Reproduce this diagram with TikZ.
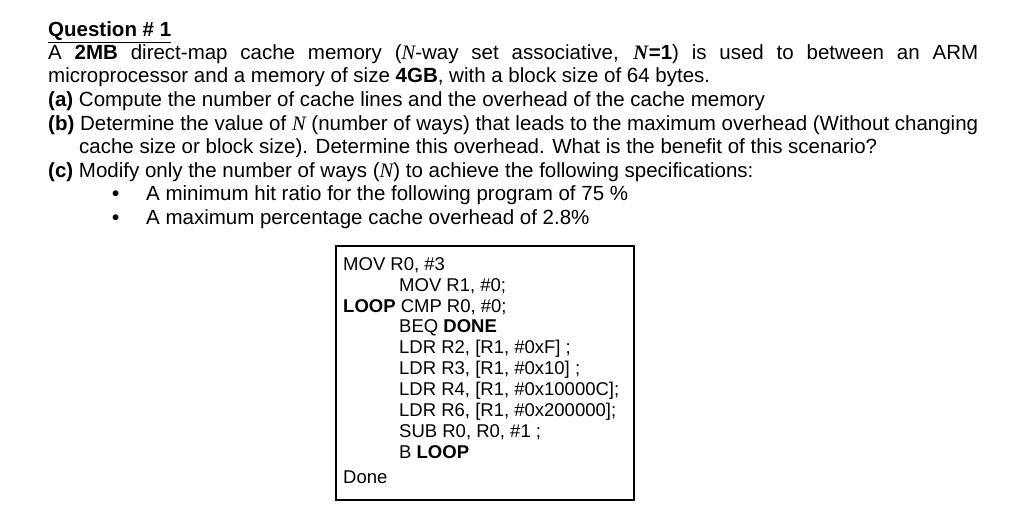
\documentclass[tikz,border=0pt]{standalone}
\usepackage{fontspec}
\setmainfont{Liberation Sans}
\newfontfamily\tnr{Liberation Serif}
\newcommand{\NN}{{\tnr\itshape N}}
\newcommand{\NB}{{\tnr\bfseries\itshape N}}
\begin{document}
\begin{tikzpicture}[x=1pt,y=-1pt,
  txt/.style={anchor=base west,inner sep=0pt,font=\fontsize{20.5}{22}\selectfont},
  code/.style={anchor=base west,inner sep=0pt,font=\fontsize{18.5}{20}\selectfont}]
\useasboundingbox (0,0) rectangle (1010,518);
\node[txt] (q) at (48,37) {\textbf{\underline{Question \# 1}}};
\node[txt] (l1) at (48,60) {\makebox[930pt][s]{A \textbf{2MB} direct-map cache memory (\NN-way set associative, \NB\textbf{=1}) is used to between an ARM}};
\node[txt] (l2) at (48,83) {microprocessor and a memory of size \textbf{4GB}, with a block size of 64 bytes.};
\node[txt] (a) at (48,107) {\textbf{(a)} Compute the number of cache lines and the overhead of the cache memory};
\node[txt] (b) at (48,131) {\makebox[930pt][s]{\textbf{(b)} Determine the value of \NN{} (number of ways) that leads to the maximum overhead (Without changing}};
\node[txt] (b2) at (79,154) {cache size or block size). Determine this overhead. What is the benefit of this scenario?};
\node[txt] (c) at (48,178) {\textbf{(c)} Modify only the number of ways (\NN) to achieve the following specifications:};
\node[txt] (d1) at (112,201) {\textbf{\textbullet}};
\node[txt] (s1) at (146,201) {A minimum hit ratio for the following program of 75 \%};
\node[txt] (d2) at (112,225) {\textbf{\textbullet}};
\node[txt] (s2) at (146,225) {A maximum percentage cache overhead of 2.8\%};
\draw[line width=1.2pt] (336,246) rectangle (634,500);
\node[code] at (343,271) {MOV R0, \#3};
\node[code] at (399,292) {MOV R1, \#0;};
\node[code] at (343,313) {\textbf{LOOP} CMP R0, \#0;};
\node[code] at (399,333) {BEQ \textbf{DONE}};
\node[code] at (399,354) {LDR R2, [R1, \#0xF] ;};
\node[code] at (399,375) {LDR R3, [R1, \#0x10] ;};
\node[code] at (399,396) {LDR R4, [R1, \#0x10000C];};
\node[code] at (399,417) {LDR R6, [R1, \#0x200000];};
\node[code] at (399,438) {SUB R0, R0, \#1 ;};
\node[code] at (399,459) {B \textbf{LOOP}};
\node[code] at (343,484) {Done};
\end{tikzpicture}
\end{document}
